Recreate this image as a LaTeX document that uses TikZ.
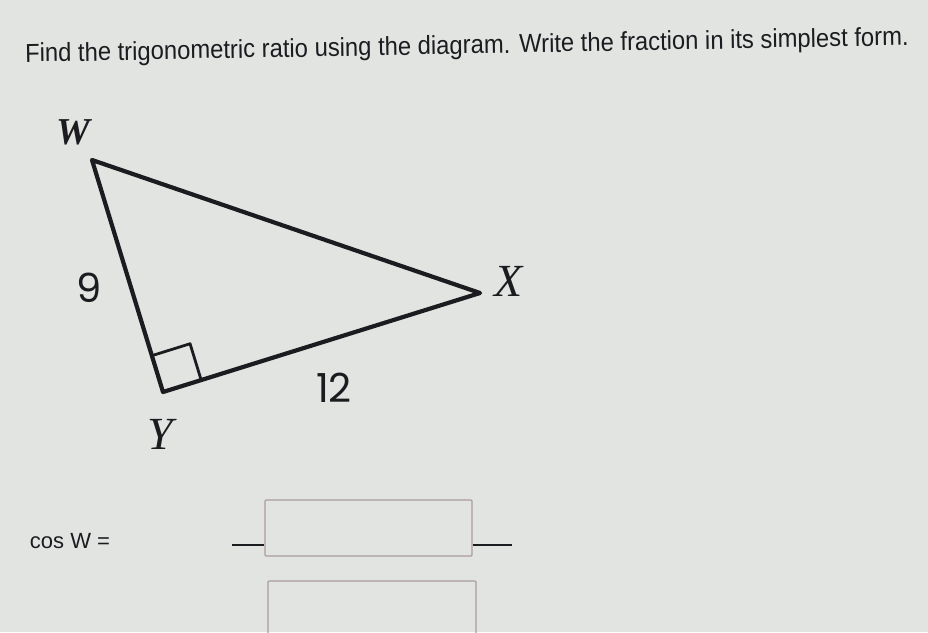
\documentclass[tikz,border=0pt]{standalone}
\usepackage{fontspec}
\setmainfont{Liberation Serif}
\newfontfamily\arialfont{Liberation Sans}
\newfontfamily\gothicfont{Poppins}
\usetikzlibrary{positioning, calc}

\definecolor{paper}{RGB}{226,228,226}
\definecolor{ink}{RGB}{28,28,32}
\definecolor{boxgrey}{RGB}{168,156,156}

\begin{document}
\begin{tikzpicture}[
    x = 1pt, y = -1pt, % pixel units, y pointing down
    line join = round,
    semithick
    ]

    \tikzset{
    vertex/.style = {font = \fontsize{46}{46}\selectfont\itshape, text = ink, inner sep = 0pt},
    side/.style = {font = \gothicfont\fontsize{40}{40}\selectfont, text = ink, inner sep = 0pt},
    answer/.style = {draw = boxgrey, line width = 1.2pt, rounded corners = 1pt,
        minimum width = 207pt, minimum height = 56pt, inner sep = 0pt}
    }

    % page
    \path[clip] (0,0) rectangle (928,632);
    \fill[paper] (0,0) rectangle (928,632);

    \node[font = \arialfont\fontsize{26}{26}\selectfont, text = ink, xscale = 0.915, rotate = 1] (title) at (467,47)
        {Find the trigonometric ratio using the diagram. Write the fraction in its simplest form.};

    % triangle
    \coordinate (W) at (92,160);
    \coordinate (X) at (480,293);
    \coordinate (Y) at (163,392);
    \draw[ink, line width = 4.2pt] (W) -- (X) -- (Y) -- cycle;

    \coordinate (ya) at ($(Y)!38pt!(W)$);
    \coordinate (yb) at ($(Y)!40pt!(X)$);
    \draw[ink, line width = 2.8pt] (ya) -- ($(ya)+(yb)-(Y)$) -- (yb);

    \node[vertex, font = \fontsize{38}{38}\selectfont\bfseries\itshape] (Wlab) at (73,132) {W};
    \node[vertex] (Xlab) at (509,281) {X};
    \node[vertex] (Ylab) at (160,434) {Y};
    \node[side] (WY) at (89,288) {9};
    \node[side] (YX) at (334,388) {12};

    % answer
    \node[font = \arialfont\fontsize{22}{22}\selectfont, text = ink] (cosW) at (70,541) {cos W =};
    \node[answer] (num) at (368.5,528) {};
    \node[answer, minimum width = 208pt, minimum height = 62pt] (den) at (372,612) {};
    \coordinate (barL) at (232,545);
    \coordinate (barR) at (512,545);
    \draw[ink, line width = 2pt] (barL) -- (num.west |- barL);
    \draw[ink, line width = 2pt] (num.east |- barL) -- (barR);

    \end{tikzpicture}
\end{document}
